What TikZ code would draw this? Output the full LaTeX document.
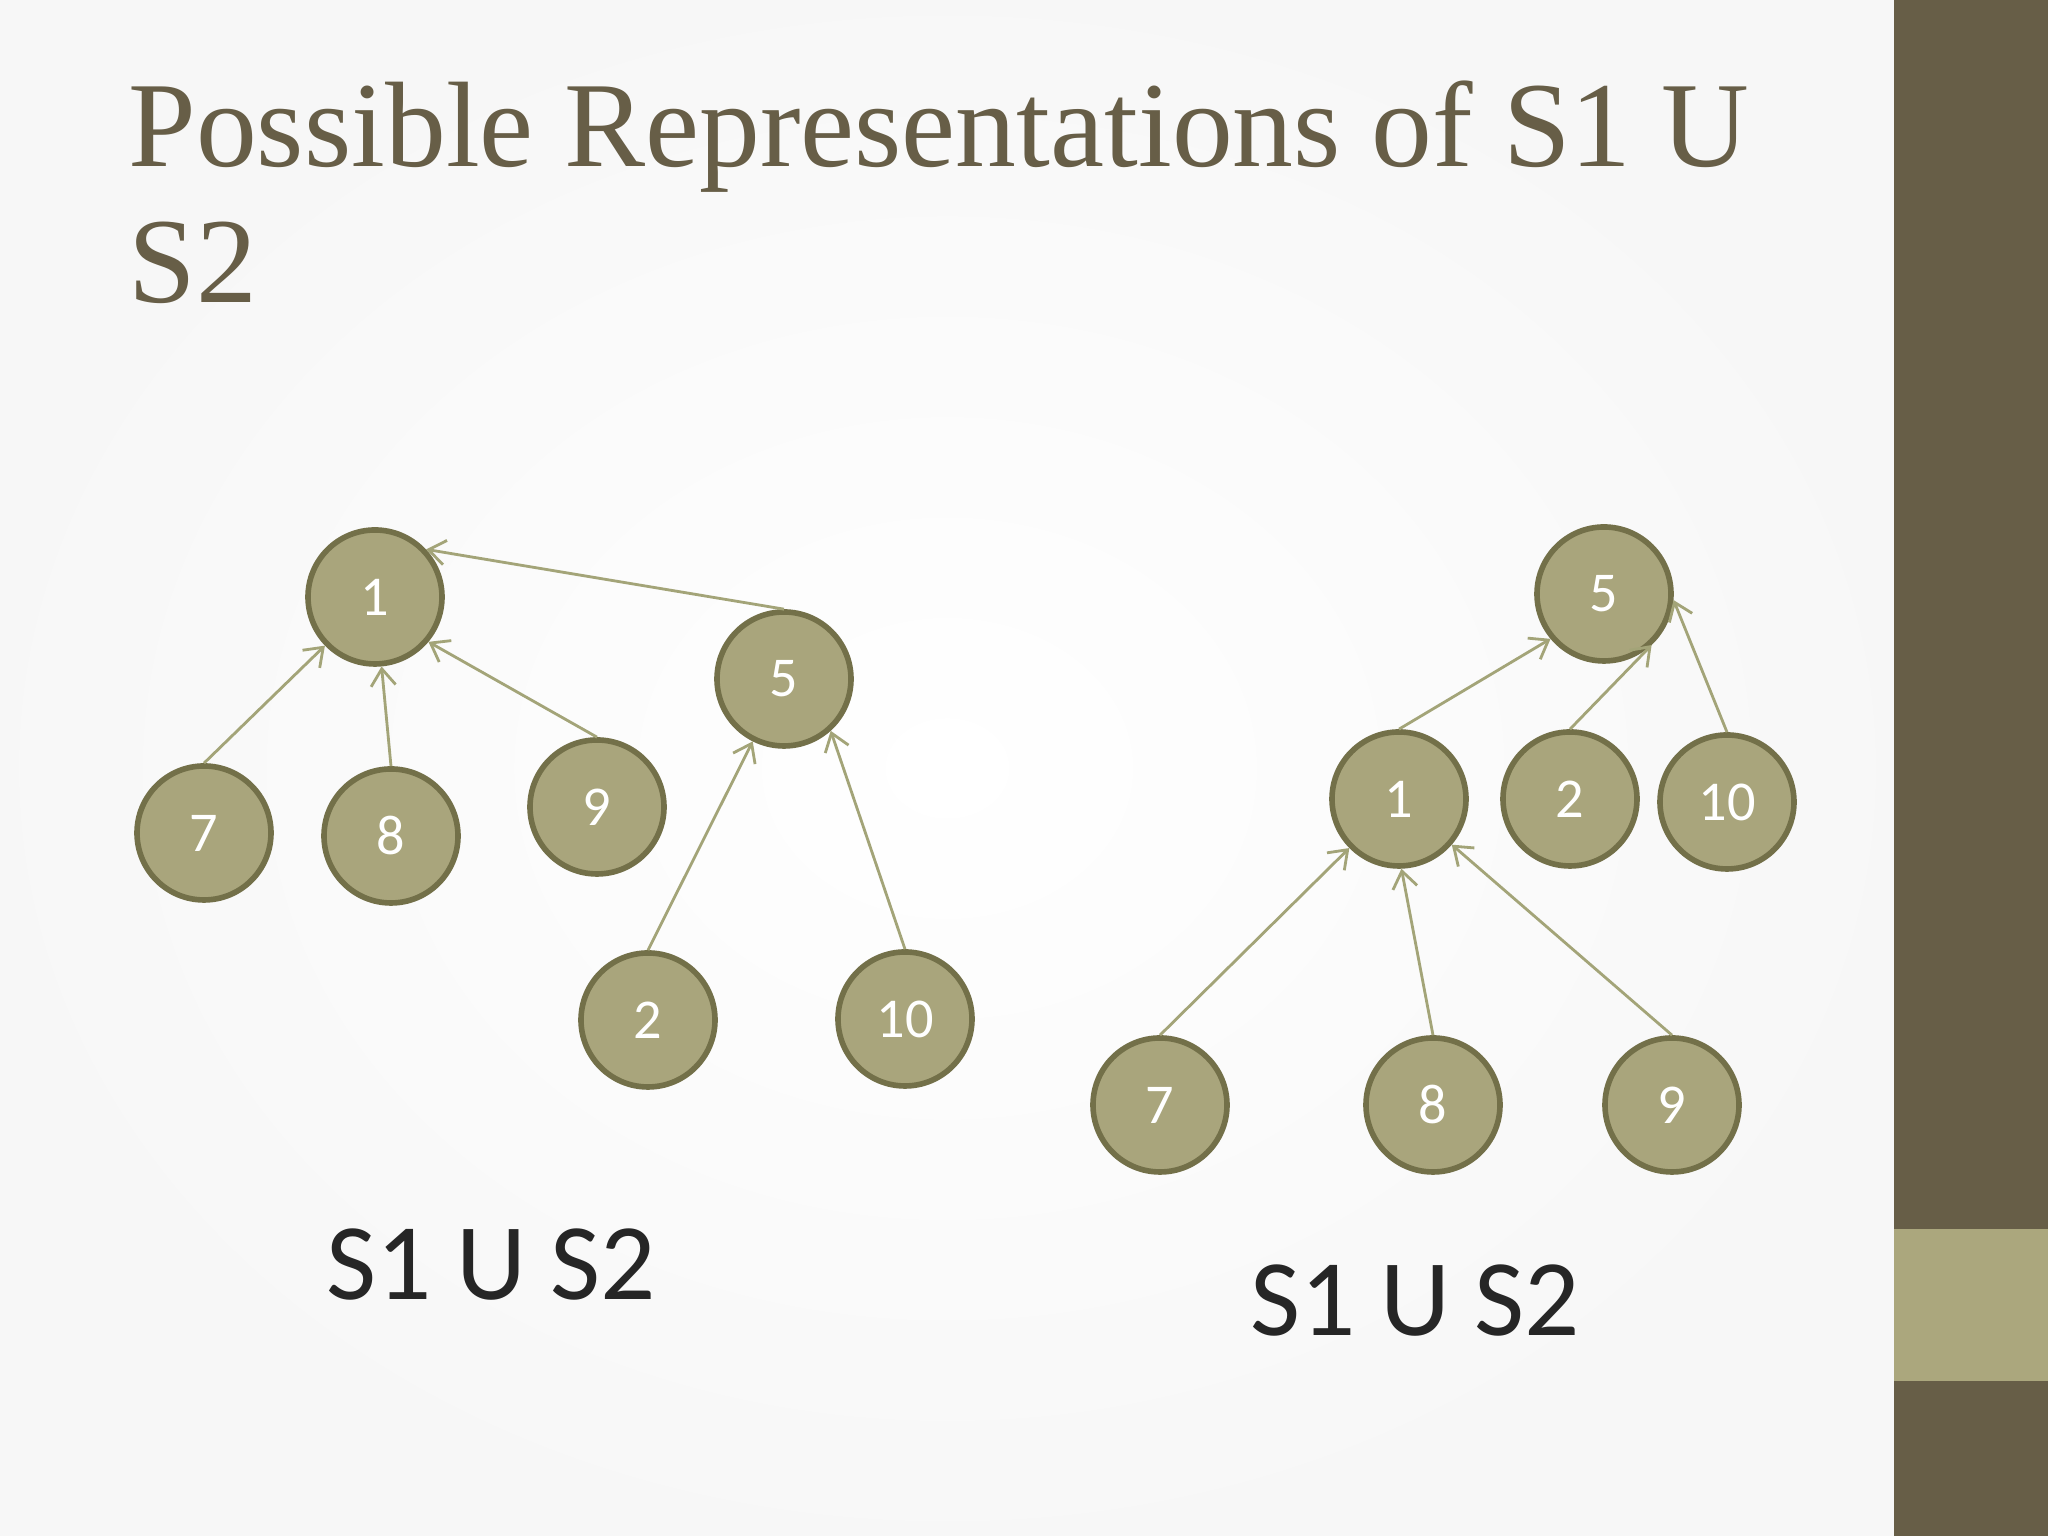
\documentclass[tikz,border=0pt]{standalone}
\usepackage{fontspec}
\setmainfont{Carlito}
\newfontfamily\titlefont{Liberation Serif}
\usepackage{tikz}
\usetikzlibrary{arrows.meta}
\definecolor{olivedark}{HTML}{675E47}
\definecolor{olivelight}{HTML}{ABA77D}
\definecolor{nodefill}{HTML}{A9A57C}
\definecolor{nodeline}{HTML}{737049}
\definecolor{linkcol}{HTML}{A3A478}
\tikzset{>={Straight Barb[length=4.8pt, width=7pt]}}
\tikzstyle{elem} = [circle, fill=nodefill, draw=nodeline, line width=1.6pt, minimum size=1.34cm, inner sep=0pt, text=white, font=\fontsize{16}{19}\selectfont]
\tikzstyle{link} = [->, draw=linkcol, line width=0.8pt]
\tikzstyle{caption} = [anchor=base, text=black!85, font=\fontsize{31}{37}\selectfont]
\tikzstyle{heading} = [anchor=base west, text=olivedark, font=\titlefont\fontsize{34.6}{40}\selectfont]

\begin{document}
\begin{tikzpicture}
\useasboundingbox (0, 0) rectangle (20.48, 15.36);
% slide background and side bar
\shade [inner color=white, outer color=black!3] (0, 0) rectangle (18.94, 15.36);
\fill [olivedark] (18.94, 0) rectangle (20.48, 15.36);
\fill [olivelight] (18.94, 1.55) rectangle (20.48, 3.07);

\node [heading] (title1) at (1.16, 13.69) {Possible Representations of S1 U};
\node [heading] (title2) at (1.16, 12.33) {S2};

% first tree, root 1
\node [elem] (L1) at (3.75, 9.39) {1};
\node [elem] (L5) at (7.84, 8.57) {5};
\node [elem] (L7) at (2.04, 7.03) {7};
\node [elem] (L8) at (3.91, 7.00) {8};
\node [elem] (L9) at (5.97, 7.29) {9};
\node [elem] (L2) at (6.48, 5.16) {2};
\node [elem] (L10) at (9.05, 5.17) {10};
\draw [link] (L7.north) to (L1);
\draw [link] (L8.north) to (L1);
\draw [link] (L9.north) to (L1.-40);
\draw [link] (L5.north) to (L1.43);
\draw [link] (L2.north) to (L5);
\draw [link] (L10.north) to (L5.-48);

% second tree, root 5
\node [elem] (R5) at (16.04, 9.42) {5};
\node [elem] (R1) at (13.99, 7.37) {1};
\node [elem] (R2) at (15.70, 7.37) {2};
\node [elem] (R10) at (17.27, 7.34) {10};
\node [elem] (R7) at (11.60, 4.31) {7};
\node [elem] (R8) at (14.33, 4.31) {8};
\node [elem] (R9) at (16.72, 4.31) {9};
\draw [link] (R1.north) to (R5.-140);
\draw [link] (R2.north) to (R5.-47);
\draw [link] (R10.north) to (R5.-5);
\draw [link] (R7.north) to (R1);
\draw [link] (R8.north) to (R1.-88);
\draw [link] (R9.north) to (R1);

\node [caption] (capL) at (4.91, 2.36) {S1 U S2};
\node [caption] (capR) at (14.15, 2.00) {S1 U S2};
\end{tikzpicture}
\end{document}
